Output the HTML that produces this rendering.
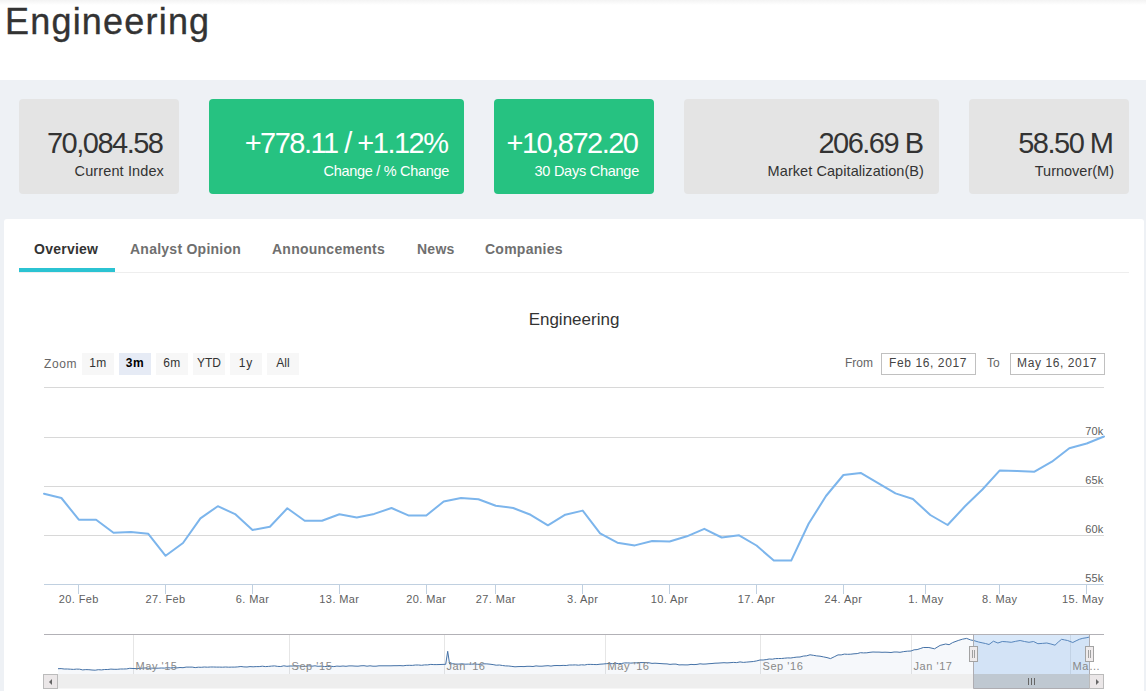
<!DOCTYPE html>
<html><head><meta charset="utf-8">
<style>
*{margin:0;padding:0;box-sizing:border-box}
html,body{width:1146px;height:691px;overflow:hidden;background:#fff;font-family:"Liberation Sans",sans-serif}
.abs{position:absolute}
#shadow{left:0;top:0;width:1146px;height:5px;background:linear-gradient(#f3f3f3,#fff)}
#title{left:5px;top:0px;-webkit-text-stroke:0.35px #333;font-size:36px;color:#333;line-height:44px;white-space:nowrap;letter-spacing:1.2px}
#band{left:0;top:80px;width:1146px;height:611px;background:#eef1f5}
.box{top:99px;height:95px;border-radius:4px;background:#e4e4e4;color:#333;text-align:right;padding-right:15px}
.box.g{background:#26c281;color:#fff}
.box .v{position:absolute;right:16.5px;top:27px;font-size:29px;line-height:34px;white-space:nowrap;letter-spacing:-1.5px}
.box .l{position:absolute;right:15px;top:64px;font-size:14.5px;line-height:17px;white-space:nowrap;letter-spacing:0.12px}
#panel{left:4px;top:219px;width:1140px;height:472px;background:#fff;border-radius:3px 3px 0 0}
.tab{top:241px;font-size:14px;font-weight:bold;color:#6f6f6f;line-height:17px;white-space:nowrap;letter-spacing:0.25px}
#tabline{left:19px;top:272px;width:1110px;height:1px;background:#eee}
#tabact{left:19px;top:268px;width:96px;height:4px;background:#2bc3d2}
svg{position:absolute;left:0;top:0}
</style></head><body>
<div class="abs" id="shadow"></div>
<div class="abs" id="title">Engineering</div>
<div class="abs" id="band"></div>
<div class="abs box" style="left:19px;width:160px"><div class="v">70,084.58</div><div class="l">Current Index</div></div>
<div class="abs box g" style="left:209px;width:255px"><div class="v">+778.11 / +1.12%</div><div class="l" style="letter-spacing:-0.3px">Change / % Change</div></div>
<div class="abs box g" style="left:494px;width:160px"><div class="v">+10,872.20</div><div class="l" style="letter-spacing:-0.25px">30 Days Change</div></div>
<div class="abs box" style="left:684px;width:255px"><div class="v">206.69 B</div><div class="l" style="letter-spacing:0.07px">Market Capitalization(B)</div></div>
<div class="abs box" style="left:969px;width:160px"><div class="v">58.50 M</div><div class="l" style="letter-spacing:0px">Turnover(M)</div></div>
<div class="abs" id="panel"></div>
<div class="abs" id="tabline"></div>
<div class="abs" id="tabact"></div>
<div class="abs tab" style="left:34px;color:#333">Overview</div>
<div class="abs tab" style="left:130px">Analyst Opinion</div>
<div class="abs tab" style="left:272px">Announcements</div>
<div class="abs tab" style="left:417px">News</div>
<div class="abs tab" style="left:485px">Companies</div>

<svg width="1146" height="691" viewBox="0 0 1146 691" font-family="Liberation Sans, sans-serif">
<text x="574" y="325" text-anchor="middle" font-size="17" fill="#333">Engineering</text>
<!-- range selector -->
<text x="44" y="368" font-size="12" fill="#666" letter-spacing="0.6">Zoom</text>
<g font-size="12" text-anchor="middle" fill="#333">
<rect x="82" y="353" width="32" height="22" fill="#f7f7f7"/><text x="98" y="367" letter-spacing="0.5">1m</text>
<rect x="119" y="353" width="32" height="22" fill="#e6ebf5"/><text x="135" y="367" font-weight="bold" fill="#000" letter-spacing="0.5">3m</text>
<rect x="156" y="353" width="32" height="22" fill="#f7f7f7"/><text x="172" y="367" letter-spacing="0.3">6m</text>
<rect x="193" y="353" width="32" height="22" fill="#f7f7f7"/><text x="209" y="367">YTD</text>
<rect x="230" y="353" width="32" height="22" fill="#f7f7f7"/><text x="246" y="367" letter-spacing="0.8">1y</text>
<rect x="267" y="353" width="32" height="22" fill="#f7f7f7"/><text x="283" y="367">All</text>
</g>
<text x="845" y="367" font-size="12" fill="#666">From</text>
<rect x="881.5" y="353.5" width="94" height="21" fill="#fff" stroke="#c0c0c0"/>
<text x="928" y="367" font-size="12" fill="#444" text-anchor="middle" letter-spacing="0.6">Feb 16, 2017</text>
<text x="987" y="367" font-size="12" fill="#666">To</text>
<rect x="1010.5" y="353.5" width="94" height="21" fill="#fff" stroke="#c0c0c0"/>
<text x="1057" y="367" font-size="12" fill="#444" text-anchor="middle" letter-spacing="0.6">May 16, 2017</text>
<!-- grid -->
<g stroke="#d8d8d8" stroke-width="1">
<line x1="44" y1="387.5" x2="1104" y2="387.5"/>
<line x1="44" y1="437.5" x2="1104" y2="437.5"/>
<line x1="44" y1="486.5" x2="1104" y2="486.5"/>
<line x1="44" y1="535.5" x2="1104" y2="535.5"/>
</g>
<g font-size="11" fill="#606060" text-anchor="end" letter-spacing="0.2">
<text x="1103.5" y="435">70k</text>
<text x="1103.5" y="484">65k</text>
<text x="1103.5" y="533">60k</text>
<text x="1103.5" y="582">55k</text>
</g>
<line x1="44" y1="584.5" x2="1104" y2="584.5" stroke="#c0d0e0"/>
<g stroke="#c0d0e0">
<line x1="78.5" y1="584" x2="78.5" y2="594"/>
<line x1="165.5" y1="584" x2="165.5" y2="594"/>
<line x1="252.5" y1="584" x2="252.5" y2="594"/>
<line x1="339.5" y1="584" x2="339.5" y2="594"/>
<line x1="426.5" y1="584" x2="426.5" y2="594"/>
<line x1="495.5" y1="584" x2="495.5" y2="594"/>
<line x1="582.5" y1="584" x2="582.5" y2="594"/>
<line x1="669.5" y1="584" x2="669.5" y2="594"/>
<line x1="756.5" y1="584" x2="756.5" y2="594"/>
<line x1="843.5" y1="584" x2="843.5" y2="594"/>
<line x1="925.5" y1="584" x2="925.5" y2="594"/>
<line x1="999.5" y1="584" x2="999.5" y2="594"/>
<line x1="1086.5" y1="584" x2="1086.5" y2="594"/>
</g>
<g font-size="11" fill="#606060" text-anchor="middle" letter-spacing="0.4">
<text x="78.8" y="603">20. Feb</text>
<text x="165.6" y="603">27. Feb</text>
<text x="252.5" y="603">6. Mar</text>
<text x="339.4" y="603">13. Mar</text>
<text x="426.3" y="603">20. Mar</text>
<text x="495.8" y="603">27. Mar</text>
<text x="582.7" y="603">3. Apr</text>
<text x="669.6" y="603">10. Apr</text>
<text x="756.5" y="603">17. Apr</text>
<text x="843.4" y="603">24. Apr</text>
<text x="925.9" y="603">1. May</text>
<text x="999.8" y="603">8. May</text>
<text x="1104" y="603" text-anchor="end">15. May</text>
</g>
<path d="M44.0 493.7 L61.4 498.0 L78.8 519.7 L96.1 519.7 L113.5 532.8 L130.9 532.1 L148.3 533.8 L165.6 555.8 L183.0 543.0 L200.4 518.4 L217.8 506.2 L235.1 514.1 L252.5 530.0 L269.9 526.8 L287.3 508.3 L304.7 520.8 L322.0 520.8 L339.4 514.3 L356.8 517.6 L374.2 513.9 L391.5 508.0 L408.9 515.6 L426.3 515.6 L443.7 501.4 L461.0 498.0 L478.4 499.3 L495.8 505.7 L513.2 508.0 L530.6 514.8 L547.9 525.3 L565.3 514.7 L582.7 510.6 L600.1 533.4 L617.4 542.7 L634.8 545.4 L652.2 541.0 L669.6 541.5 L686.9 536.3 L704.3 528.8 L721.7 537.5 L739.1 535.3 L756.5 545.5 L773.8 560.6 L791.2 560.6 L808.6 523.8 L826.0 496.0 L843.4 475.0 L860.7 472.9 L878.1 483.2 L895.5 493.4 L912.9 499.0 L930.3 515.0 L947.6 525.0 L965.0 506.3 L982.4 489.5 L999.8 470.4 L1017.1 470.9 L1034.5 471.7 L1051.9 461.7 L1069.3 448.2 L1086.7 443.5 L1104.0 436.5" fill="none" stroke="#7cb5ec" stroke-width="2" stroke-linejoin="round" stroke-linecap="round"/>
<!-- navigator -->
<g stroke="#e6e6e6">
<line x1="133.5" y1="634" x2="133.5" y2="674"/>
<line x1="289.5" y1="634" x2="289.5" y2="674"/>
<line x1="444.5" y1="634" x2="444.5" y2="674"/>
<line x1="605.5" y1="634" x2="605.5" y2="674"/>
<line x1="760.5" y1="634" x2="760.5" y2="674"/>
<line x1="911.5" y1="634" x2="911.5" y2="674"/>
<line x1="1070.5" y1="634" x2="1070.5" y2="674"/>
</g>
<path d="M58.0 668.7 L61.1 668.6 L64.2 669.0 L67.3 669.0 L70.4 669.2 L73.5 669.4 L76.5 669.1 L79.6 669.2 L82.7 669.9 L85.8 669.6 L88.9 669.7 L92.0 670.0 L95.2 670.2 L98.3 669.7 L101.5 669.9 L104.6 669.5 L107.8 669.5 L110.9 669.1 L114.1 669.3 L117.2 669.3 L120.4 669.0 L123.5 669.0 L126.7 668.9 L129.8 668.3 L133.0 668.5 L136.1 668.6 L139.3 668.4 L142.4 668.2 L145.5 667.9 L148.7 668.4 L151.8 668.1 L154.9 668.2 L158.1 668.2 L161.2 668.0 L164.3 668.1 L167.5 667.7 L170.6 667.9 L173.7 667.6 L176.9 667.9 L180.0 667.5 L183.0 667.7 L186.1 667.1 L189.1 667.1 L192.2 667.1 L195.2 667.6 L198.3 667.2 L201.3 667.3 L204.3 667.0 L207.4 667.2 L210.4 667.0 L213.5 667.0 L216.5 667.1 L219.6 667.1 L222.6 667.2 L225.7 667.0 L228.7 667.2 L231.7 667.1 L234.8 667.1 L237.8 666.9 L240.9 666.5 L243.9 666.9 L247.0 667.0 L250.0 666.6 L253.1 666.8 L256.2 666.6 L259.2 666.6 L262.3 666.2 L265.4 666.6 L268.5 666.4 L271.5 666.1 L274.6 665.9 L277.7 666.4 L280.8 666.5 L283.8 665.8 L286.9 666.3 L290.0 666.0 L293.1 666.0 L296.2 665.8 L299.4 665.9 L302.5 666.3 L305.6 666.4 L308.8 665.8 L311.9 666.2 L315.0 665.8 L318.1 666.3 L321.2 666.1 L324.4 666.5 L327.5 666.6 L330.6 666.2 L333.8 666.6 L336.9 666.1 L340.0 666.3 L343.0 666.0 L346.0 666.3 L349.0 665.9 L352.0 665.9 L355.0 666.1 L358.0 666.2 L361.0 665.8 L364.0 665.7 L367.0 666.2 L370.0 665.8 L373.0 666.2 L376.0 666.2 L379.0 665.8 L382.0 665.8 L385.0 665.8 L388.0 665.8 L391.0 665.8 L394.0 665.7 L397.0 665.7 L400.0 665.6 L403.1 665.8 L406.2 665.4 L409.2 665.3 L412.3 665.4 L415.4 665.0 L418.5 665.0 L421.5 665.3 L424.6 664.9 L427.7 664.9 L430.8 664.4 L433.8 664.6 L436.9 664.6 L440.0 664.5 L445.7 664.3 L447.7 651.3 L449.6 664.0 L452.7 663.7 L455.8 664.1 L458.9 664.1 L462.0 663.8 L465.1 664.2 L468.2 664.1 L471.4 664.2 L474.5 664.0 L477.6 664.3 L480.7 664.3 L483.8 663.8 L486.9 663.9 L490.0 664.2 L493.1 664.6 L496.2 665.2 L499.4 665.0 L502.5 665.5 L505.6 665.9 L508.8 666.0 L511.9 666.4 L515.0 666.8 L518.0 666.6 L521.0 666.5 L524.0 666.6 L527.0 666.3 L530.0 666.3 L533.0 666.5 L536.0 665.9 L539.0 666.2 L542.0 666.2 L545.0 665.9 L548.0 665.7 L551.0 666.1 L554.0 665.6 L557.0 665.5 L560.0 665.6 L563.1 665.4 L566.2 665.5 L569.2 665.0 L572.3 665.0 L575.4 664.9 L578.5 665.2 L581.5 664.8 L584.6 665.0 L587.7 664.4 L590.8 664.4 L593.8 664.5 L596.9 664.6 L600.0 664.2 L603.1 664.0 L606.2 663.7 L609.2 663.5 L612.3 663.7 L615.4 663.3 L618.5 663.6 L621.5 663.5 L624.6 662.9 L627.7 662.9 L630.8 663.1 L633.8 662.9 L636.9 662.8 L640.0 662.5 L643.0 662.6 L646.0 662.6 L649.0 662.8 L652.0 663.4 L655.0 663.2 L658.0 663.4 L661.0 663.6 L664.0 663.8 L667.0 663.9 L670.0 664.4 L673.0 664.1 L676.0 664.1 L679.0 664.9 L682.0 664.8 L685.0 664.9 L688.0 664.9 L691.0 664.4 L694.0 664.6 L697.0 664.4 L700.0 663.8 L703.0 664.1 L706.0 664.0 L709.0 663.7 L712.0 663.5 L715.0 663.2 L718.0 663.1 L721.0 662.9 L724.0 662.7 L727.0 662.9 L730.0 662.7 L733.3 662.4 L736.7 662.6 L740.0 661.9 L743.3 662.4 L746.7 662.1 L750.0 661.8 L753.3 661.5 L756.7 660.9 L760.0 660.0 L763.1 660.0 L766.2 659.6 L769.2 659.0 L772.3 659.2 L775.4 658.6 L778.5 658.5 L781.5 658.5 L784.6 658.2 L787.7 657.9 L790.8 658.0 L793.8 657.5 L796.9 657.1 L800.0 657.0 L803.3 656.1 L806.7 655.8 L810.0 654.8 L813.3 655.3 L816.7 655.9 L820.0 656.2 L823.5 656.9 L827.0 657.6 L830.5 658.6 L834.2 656.8 L838.0 654.9 L841.2 654.9 L844.4 654.1 L847.6 654.3 L850.8 654.2 L854.0 653.8 L857.2 653.6 L860.4 652.7 L863.6 652.9 L866.8 652.8 L870.0 652.3 L873.0 652.0 L876.0 652.1 L879.0 652.1 L882.0 652.3 L885.0 652.2 L888.0 652.3 L891.0 652.5 L894.0 652.0 L897.0 652.0 L900.0 652.3 L903.7 651.6 L907.3 651.2 L911.0 651.0 L914.1 649.8 L917.1 649.6 L920.2 648.6 L923.3 647.5 L928.9 647.5 L934.5 648.8 L940.1 645.4 L945.7 644.0 L949.1 644.7 L952.6 642.6 L958.2 640.5 L962.4 639.2 L966.6 638.4 L970.8 640.0 L973.6 640.5 L978.6 642.0 L982.1 642.8 L985.5 643.5 L989.0 644.5 L993.4 641.2 L997.9 643.0 L1002.3 641.5 L1006.8 641.8 L1011.2 642.3 L1015.7 641.3 L1020.1 640.5 L1024.5 641.5 L1029.0 642.3 L1033.5 641.5 L1037.9 643.7 L1042.3 643.4 L1046.8 643.0 L1050.9 644.0 L1055.0 645.2 L1058.3 642.0 L1061.6 639.3 L1064.6 639.9 L1067.6 640.5 L1072.8 642.5 L1076.1 640.8 L1079.4 639.3 L1082.8 638.3 L1086.1 637.8 L1089.5 637.0 L1089.5 674 L58 674 Z" fill="#4572a7" fill-opacity="0.05"/>
<path d="M58.0 668.7 L61.1 668.6 L64.2 669.0 L67.3 669.0 L70.4 669.2 L73.5 669.4 L76.5 669.1 L79.6 669.2 L82.7 669.9 L85.8 669.6 L88.9 669.7 L92.0 670.0 L95.2 670.2 L98.3 669.7 L101.5 669.9 L104.6 669.5 L107.8 669.5 L110.9 669.1 L114.1 669.3 L117.2 669.3 L120.4 669.0 L123.5 669.0 L126.7 668.9 L129.8 668.3 L133.0 668.5 L136.1 668.6 L139.3 668.4 L142.4 668.2 L145.5 667.9 L148.7 668.4 L151.8 668.1 L154.9 668.2 L158.1 668.2 L161.2 668.0 L164.3 668.1 L167.5 667.7 L170.6 667.9 L173.7 667.6 L176.9 667.9 L180.0 667.5 L183.0 667.7 L186.1 667.1 L189.1 667.1 L192.2 667.1 L195.2 667.6 L198.3 667.2 L201.3 667.3 L204.3 667.0 L207.4 667.2 L210.4 667.0 L213.5 667.0 L216.5 667.1 L219.6 667.1 L222.6 667.2 L225.7 667.0 L228.7 667.2 L231.7 667.1 L234.8 667.1 L237.8 666.9 L240.9 666.5 L243.9 666.9 L247.0 667.0 L250.0 666.6 L253.1 666.8 L256.2 666.6 L259.2 666.6 L262.3 666.2 L265.4 666.6 L268.5 666.4 L271.5 666.1 L274.6 665.9 L277.7 666.4 L280.8 666.5 L283.8 665.8 L286.9 666.3 L290.0 666.0 L293.1 666.0 L296.2 665.8 L299.4 665.9 L302.5 666.3 L305.6 666.4 L308.8 665.8 L311.9 666.2 L315.0 665.8 L318.1 666.3 L321.2 666.1 L324.4 666.5 L327.5 666.6 L330.6 666.2 L333.8 666.6 L336.9 666.1 L340.0 666.3 L343.0 666.0 L346.0 666.3 L349.0 665.9 L352.0 665.9 L355.0 666.1 L358.0 666.2 L361.0 665.8 L364.0 665.7 L367.0 666.2 L370.0 665.8 L373.0 666.2 L376.0 666.2 L379.0 665.8 L382.0 665.8 L385.0 665.8 L388.0 665.8 L391.0 665.8 L394.0 665.7 L397.0 665.7 L400.0 665.6 L403.1 665.8 L406.2 665.4 L409.2 665.3 L412.3 665.4 L415.4 665.0 L418.5 665.0 L421.5 665.3 L424.6 664.9 L427.7 664.9 L430.8 664.4 L433.8 664.6 L436.9 664.6 L440.0 664.5 L445.7 664.3 L447.7 651.3 L449.6 664.0 L452.7 663.7 L455.8 664.1 L458.9 664.1 L462.0 663.8 L465.1 664.2 L468.2 664.1 L471.4 664.2 L474.5 664.0 L477.6 664.3 L480.7 664.3 L483.8 663.8 L486.9 663.9 L490.0 664.2 L493.1 664.6 L496.2 665.2 L499.4 665.0 L502.5 665.5 L505.6 665.9 L508.8 666.0 L511.9 666.4 L515.0 666.8 L518.0 666.6 L521.0 666.5 L524.0 666.6 L527.0 666.3 L530.0 666.3 L533.0 666.5 L536.0 665.9 L539.0 666.2 L542.0 666.2 L545.0 665.9 L548.0 665.7 L551.0 666.1 L554.0 665.6 L557.0 665.5 L560.0 665.6 L563.1 665.4 L566.2 665.5 L569.2 665.0 L572.3 665.0 L575.4 664.9 L578.5 665.2 L581.5 664.8 L584.6 665.0 L587.7 664.4 L590.8 664.4 L593.8 664.5 L596.9 664.6 L600.0 664.2 L603.1 664.0 L606.2 663.7 L609.2 663.5 L612.3 663.7 L615.4 663.3 L618.5 663.6 L621.5 663.5 L624.6 662.9 L627.7 662.9 L630.8 663.1 L633.8 662.9 L636.9 662.8 L640.0 662.5 L643.0 662.6 L646.0 662.6 L649.0 662.8 L652.0 663.4 L655.0 663.2 L658.0 663.4 L661.0 663.6 L664.0 663.8 L667.0 663.9 L670.0 664.4 L673.0 664.1 L676.0 664.1 L679.0 664.9 L682.0 664.8 L685.0 664.9 L688.0 664.9 L691.0 664.4 L694.0 664.6 L697.0 664.4 L700.0 663.8 L703.0 664.1 L706.0 664.0 L709.0 663.7 L712.0 663.5 L715.0 663.2 L718.0 663.1 L721.0 662.9 L724.0 662.7 L727.0 662.9 L730.0 662.7 L733.3 662.4 L736.7 662.6 L740.0 661.9 L743.3 662.4 L746.7 662.1 L750.0 661.8 L753.3 661.5 L756.7 660.9 L760.0 660.0 L763.1 660.0 L766.2 659.6 L769.2 659.0 L772.3 659.2 L775.4 658.6 L778.5 658.5 L781.5 658.5 L784.6 658.2 L787.7 657.9 L790.8 658.0 L793.8 657.5 L796.9 657.1 L800.0 657.0 L803.3 656.1 L806.7 655.8 L810.0 654.8 L813.3 655.3 L816.7 655.9 L820.0 656.2 L823.5 656.9 L827.0 657.6 L830.5 658.6 L834.2 656.8 L838.0 654.9 L841.2 654.9 L844.4 654.1 L847.6 654.3 L850.8 654.2 L854.0 653.8 L857.2 653.6 L860.4 652.7 L863.6 652.9 L866.8 652.8 L870.0 652.3 L873.0 652.0 L876.0 652.1 L879.0 652.1 L882.0 652.3 L885.0 652.2 L888.0 652.3 L891.0 652.5 L894.0 652.0 L897.0 652.0 L900.0 652.3 L903.7 651.6 L907.3 651.2 L911.0 651.0 L914.1 649.8 L917.1 649.6 L920.2 648.6 L923.3 647.5 L928.9 647.5 L934.5 648.8 L940.1 645.4 L945.7 644.0 L949.1 644.7 L952.6 642.6 L958.2 640.5 L962.4 639.2 L966.6 638.4 L970.8 640.0 L973.6 640.5 L978.6 642.0 L982.1 642.8 L985.5 643.5 L989.0 644.5 L993.4 641.2 L997.9 643.0 L1002.3 641.5 L1006.8 641.8 L1011.2 642.3 L1015.7 641.3 L1020.1 640.5 L1024.5 641.5 L1029.0 642.3 L1033.5 641.5 L1037.9 643.7 L1042.3 643.4 L1046.8 643.0 L1050.9 644.0 L1055.0 645.2 L1058.3 642.0 L1061.6 639.3 L1064.6 639.9 L1067.6 640.5 L1072.8 642.5 L1076.1 640.8 L1079.4 639.3 L1082.8 638.3 L1086.1 637.8 L1089.5 637.0" fill="none" stroke="#4572a7" stroke-width="1"/>
<rect x="973.5" y="634" width="116" height="40" fill="rgb(128,179,236)" fill-opacity="0.3"/>
<g font-size="11" fill="#888">
<text x="135.5" y="670" letter-spacing="0.55">May '15</text>
<text x="291.5" y="670" letter-spacing="0.55">Sep '15</text>
<text x="446.5" y="670" letter-spacing="0.55">Jan '16</text>
<text x="607.5" y="670" letter-spacing="0.55">May '16</text>
<text x="762.5" y="670" letter-spacing="0.55">Sep '16</text>
<text x="913.5" y="670" letter-spacing="0.55">Jan '17</text>
<text x="1072.5" y="670" letter-spacing="0.55">Ma…</text>
</g>
<path d="M44 634.5 L1104 634.5" stroke="#b2b1b6" fill="none"/>
<!-- scrollbar -->
<rect x="58" y="674" width="1032" height="14.5" fill="#eeeeee"/>
<rect x="973.5" y="674" width="116" height="14.5" fill="#bfc8d1"/>
<path d="M973.5 634 L973.5 688.5 L1089.5 688.5 L1089.5 634" stroke="#aeadb2" fill="none"/>
<g stroke="#666" stroke-width="1">
<line x1="1028.5" y1="678" x2="1028.5" y2="685"/><line x1="1031.5" y1="678" x2="1031.5" y2="685"/><line x1="1034.5" y1="678" x2="1034.5" y2="685"/>
</g>
<rect x="43.5" y="674.5" width="14" height="14" fill="#ebe7e8" stroke="#bbb"/>
<path d="M52 679 L49 682 L52 685 Z" fill="#666"/>
<rect x="1089.5" y="674.5" width="14" height="14" fill="#ebe7e8" stroke="#bbb"/>
<path d="M1096 679 L1099 682 L1096 685 Z" fill="#666"/>
<!-- handles -->
<g fill="#efebec" stroke="#a3a3a3">
<rect x="969.5" y="646.5" width="8" height="15"/>
<rect x="1085.5" y="646.5" width="8" height="15"/>
</g>
<g stroke="#a0a0a0">
<line x1="972.5" y1="650" x2="972.5" y2="658"/><line x1="974.5" y1="650" x2="974.5" y2="658"/>
<line x1="1088.5" y1="650" x2="1088.5" y2="658"/><line x1="1090.5" y1="650" x2="1090.5" y2="658"/>
</g>
</svg>
</body></html>
